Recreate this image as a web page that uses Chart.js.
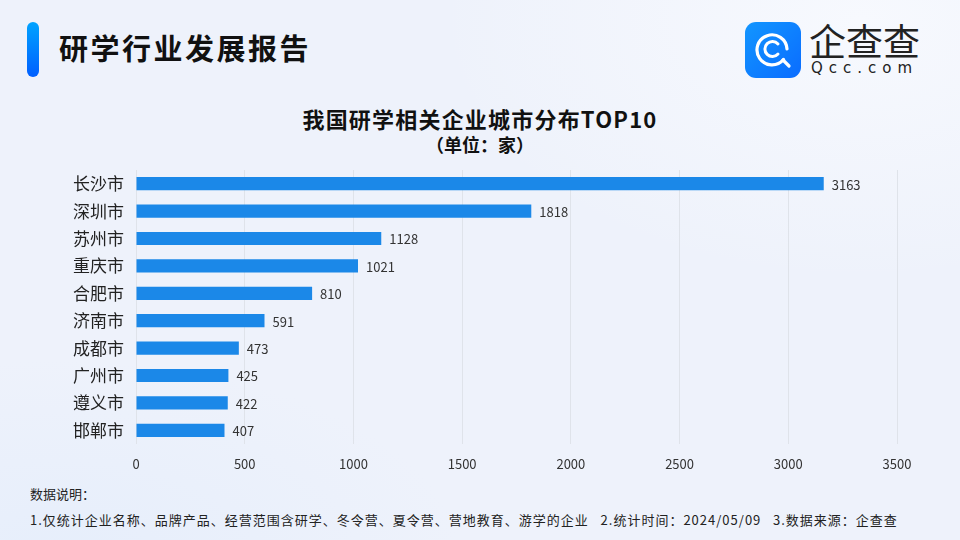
<!DOCTYPE html>
<html><head><meta charset="utf-8">
<script src="https://cdn.jsdelivr.net/npm/chart.js@4.4.1/dist/chart.umd.min.js"></script>
<style>
html,body{margin:0;padding:0;}
body{width:960px;height:540px;position:relative;overflow:hidden;font-family:"Noto Sans CJK SC","Noto Sans",sans-serif;
background:radial-gradient(ellipse 420px 260px at 860px 20px,#f7f9fe 0%,rgba(247,249,254,0) 100%),
radial-gradient(ellipse 400px 200px at 60px 560px,#e6eefb 0%,rgba(230,238,251,0) 100%),#eef2fb;}
#bar{position:absolute;left:27px;top:22px;width:12px;height:55px;border-radius:6px;background:linear-gradient(#00a3ff,#005fff);}
#head{position:absolute;left:59px;top:27px;font-size:29px;font-weight:bold;color:#111;letter-spacing:2.5px;line-height:40px;}
#logo{position:absolute;left:745px;top:22px;}
#brand{position:absolute;left:809px;top:19px;font-size:37px;color:#222;line-height:42px;letter-spacing:0px;}
#dom{position:absolute;left:811px;top:60px;font-size:15px;color:#222;letter-spacing:6px;line-height:16px;font-family:"DejaVu Sans",sans-serif;}
#t1{position:absolute;left:0;width:960px;top:103px;text-align:center;font-size:22px;font-weight:bold;color:#111;line-height:30px;letter-spacing:1.2px;}
#t2{position:absolute;left:0;width:960px;top:131px;text-align:center;font-size:18px;font-weight:bold;color:#111;line-height:26px;}
#n1{position:absolute;left:30px;top:485px;font-size:13px;color:#222;line-height:18px;}
#n2{position:absolute;left:30px;top:511px;font-size:13px;color:#222;line-height:18px;white-space:pre;letter-spacing:1px;}
canvas{position:absolute;left:0;top:0;}
</style></head>
<body>
<div id="bar"></div>
<div id="head">研学行业发展报告</div>
<svg id="logo" width="56" height="56" viewBox="0 0 56 56">
<defs><linearGradient id="g" x1="0" y1="0" x2="1" y2="1"><stop offset="0" stop-color="#1296ff"/><stop offset="1" stop-color="#0a6cff"/></linearGradient></defs>
<rect x="0" y="0" width="56" height="56" rx="11" fill="url(#g)"/>
<path d="M38.5 37.5 A15 15 0 1 1 42 27" fill="none" stroke="#fff" stroke-width="3.2" stroke-linecap="round"/>
<path d="M33 32 A7.5 7.5 0 1 1 33 22" fill="none" stroke="#fff" stroke-width="3" stroke-linecap="round"/>
<path d="M38 38 L44 44" stroke="#fff" stroke-width="3.2" stroke-linecap="round"/>
</svg>
<div id="brand">企查查</div>
<div id="dom">Qcc.com</div>
<div id="t1">我国研学相关企业城市分布TOP10</div>
<div id="t2">（单位：家）</div>
<div id="n1">数据说明：</div>
<div id="n2">1.仅统计企业名称、品牌产品、经营范围含研学、冬令营、夏令营、营地教育、游学的企业   2.统计时间：2024/05/09   3.数据来源：企查查</div>
<canvas id="c" width="960" height="540"></canvas>
<script>
const categories = ["长沙市","深圳市","苏州市","重庆市","合肥市","济南市","成都市","广州市","遵义市","邯郸市"];
const values = [3163,1818,1128,1021,810,591,473,425,422,407];
const xTicks = [0,500,1000,1500,2000,2500,3000,3500];

const valueLabels = {
  id:'valueLabels',
  afterDatasetsDraw(chart){
    const ctx = chart.ctx;
    const meta = chart.getDatasetMeta(0);
    ctx.save();
    ctx.font = '13px "Noto Sans CJK SC", "Noto Sans", sans-serif';
    ctx.fillStyle = '#333';
    ctx.textAlign = 'left';
    ctx.textBaseline = 'middle';
    meta.data.forEach((el,i)=>{
      ctx.fillText(String(chart.data.datasets[0].data[i]), el.x + 8, el.y + 1);
    });
    ctx.restore();
  }
};

new Chart(document.getElementById('c'),{
  type:'bar',
  data:{labels:categories,datasets:[{data:values,backgroundColor:'#1b88e8',borderWidth:0,barPercentage:0.48,categoryPercentage:1}]},
  options:{
    indexAxis:'y',
    responsive:false,animation:false,
    layout:{padding:{top:170,right:63,bottom:66,left:0}},
    plugins:{legend:{display:false},tooltip:{enabled:false},title:{display:false}},
    scales:{
      x:{min:0,max:3500,
        afterBuildTicks(s){s.ticks = xTicks.map(v=>({value:v}));},
        afterFit(s){s.height=30;},
        grid:{color:'#dfe3ea',drawTicks:false,lineWidth:1},
        border:{display:false},
        ticks:{padding:12,color:'#333',callback:(v)=>String(v),font:{size:13,family:'"Noto Sans CJK SC", "Noto Sans", sans-serif'}}},
      y:{
        afterFit(s){s.width=136;},
        grid:{display:false,drawTicks:false},
        border:{display:false},
        ticks:{padding:12,color:'#222',font:{size:17,family:'"Noto Sans CJK SC", sans-serif'}}}
    }
  },
  plugins:[valueLabels]
});
</script>
</body></html>
